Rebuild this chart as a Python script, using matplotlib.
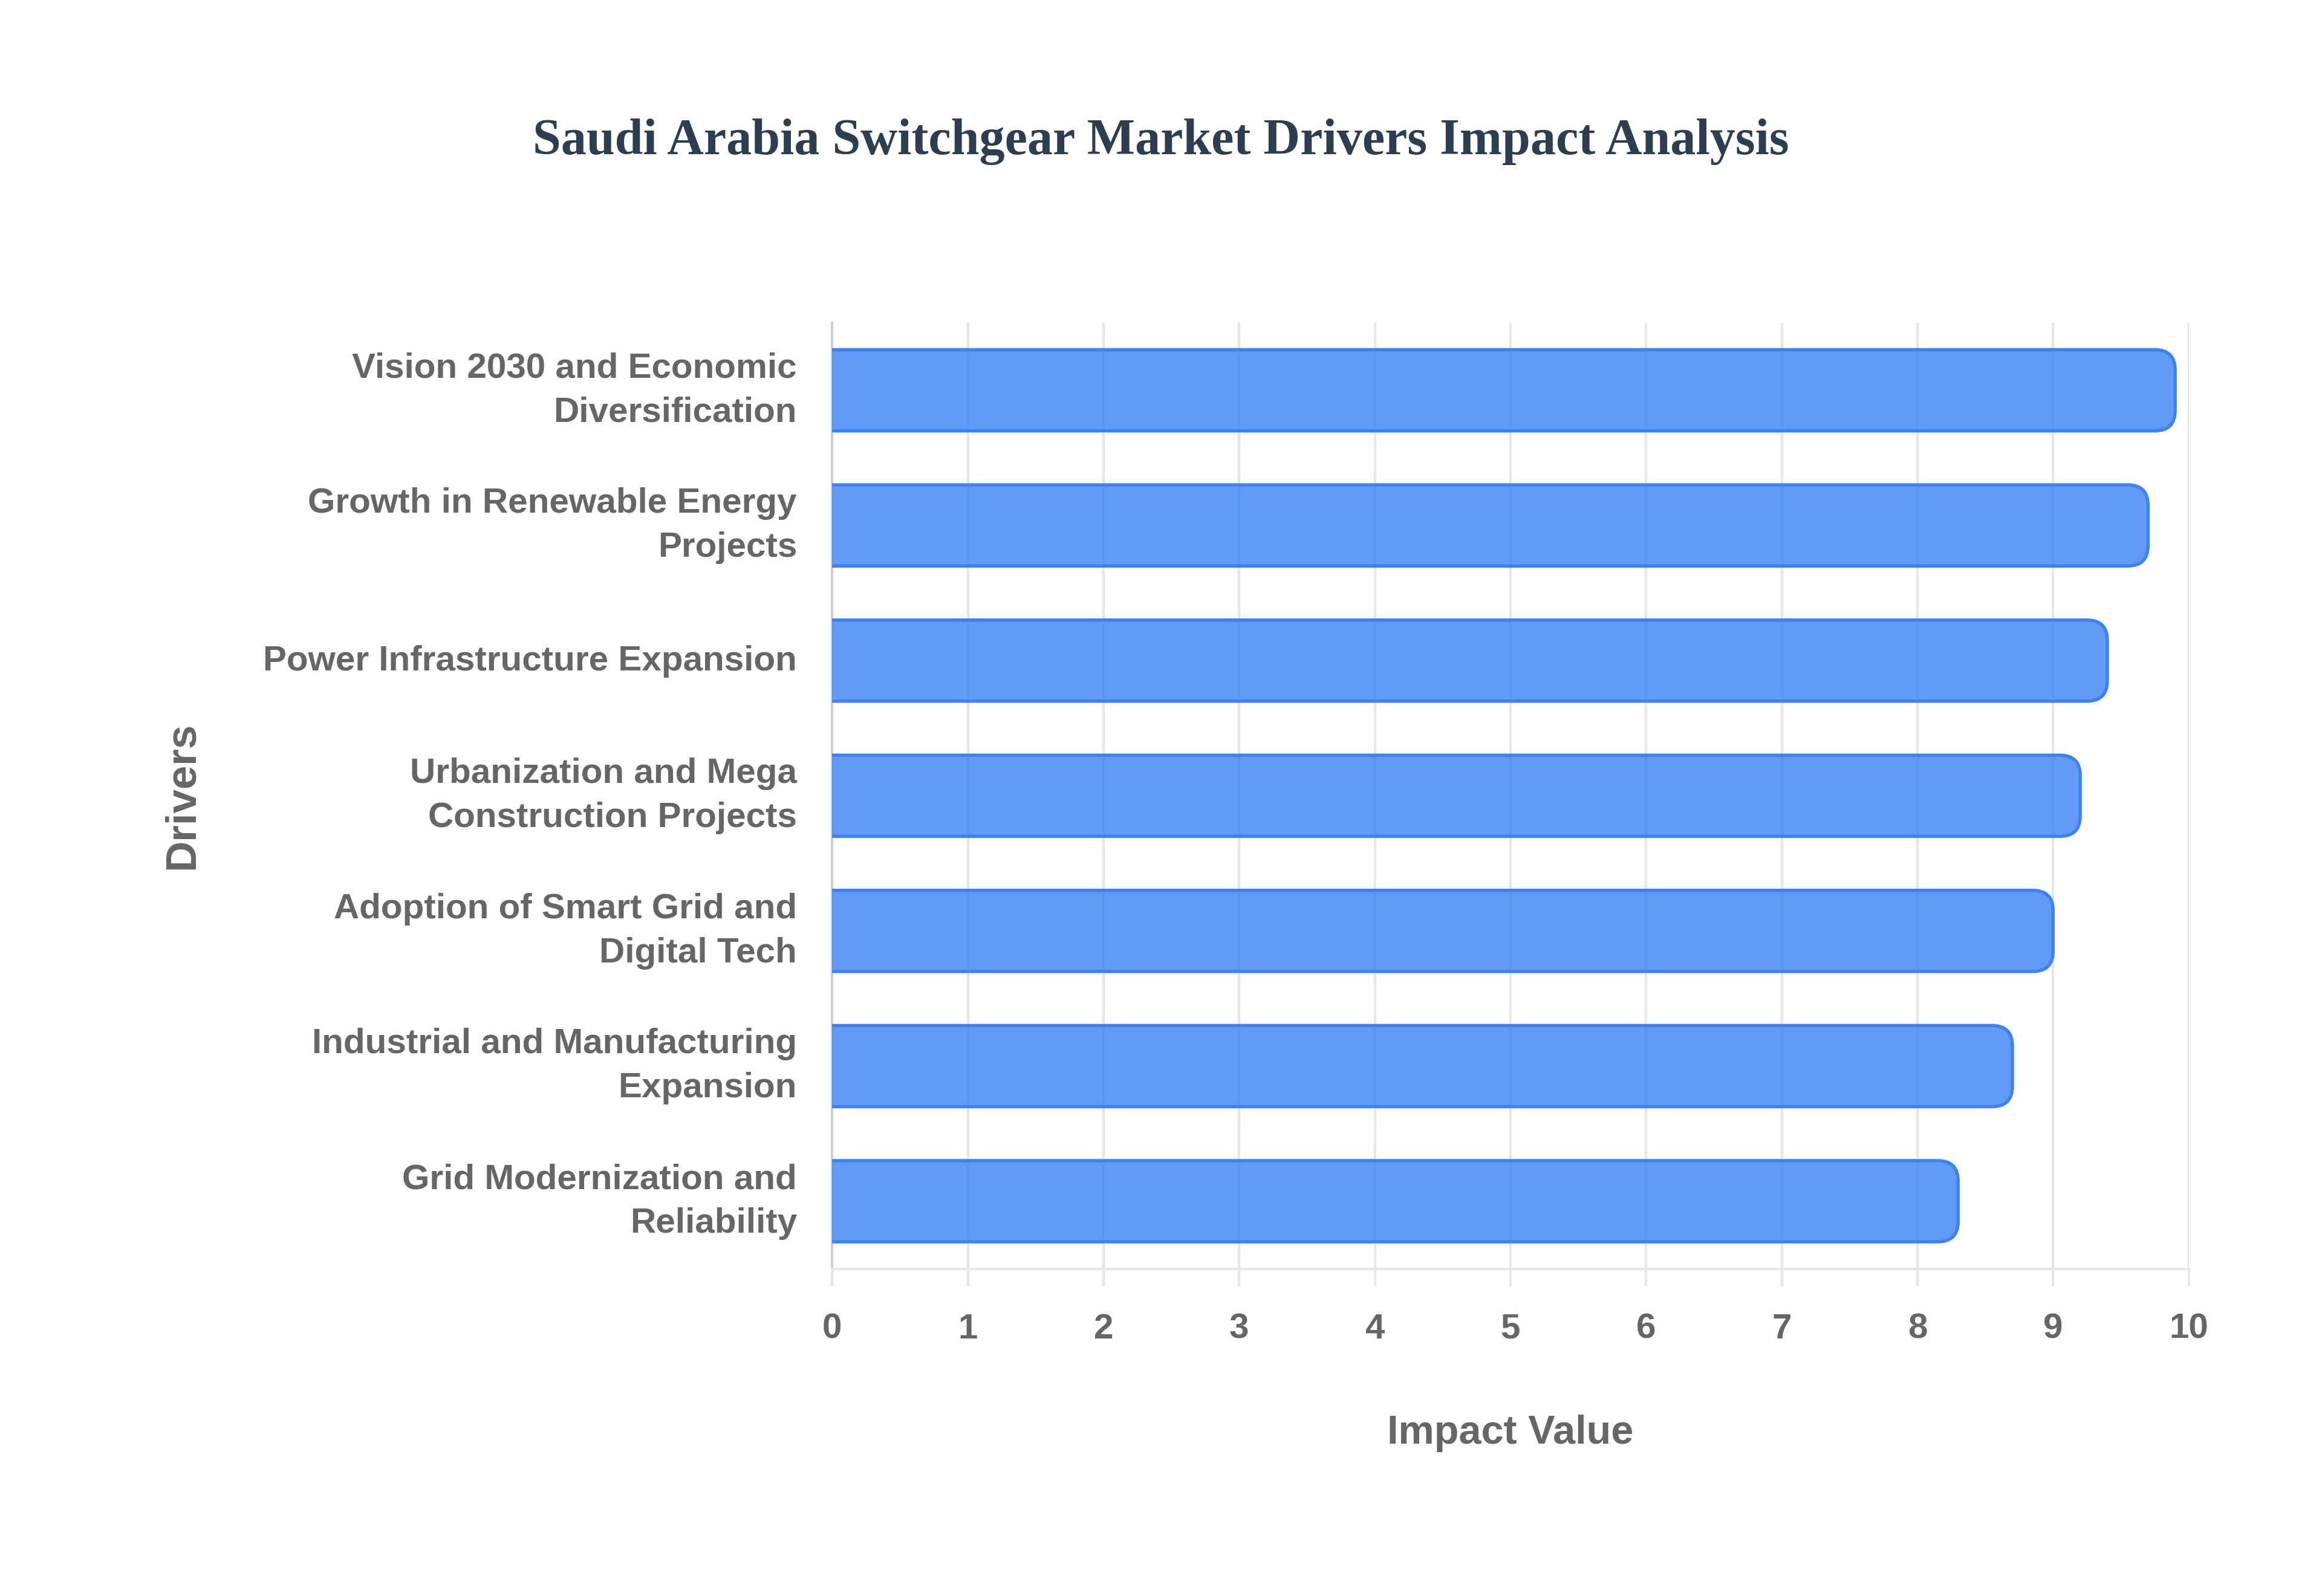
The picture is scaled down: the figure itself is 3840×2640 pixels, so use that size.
import matplotlib
matplotlib.use("Agg")
import matplotlib.pyplot as plt
from matplotlib.patches import FancyBboxPatch
from matplotlib import font_manager
from matplotlib.transforms import ScaledTranslation

drivers = [
    "Vision 2030 and Economic\nDiversification",
    "Growth in Renewable Energy\nProjects",
    "Power Infrastructure Expansion",
    "Urbanization and Mega\nConstruction Projects",
    "Adoption of Smart Grid and\nDigital Tech",
    "Industrial and Manufacturing\nExpansion",
    "Grid Modernization and\nReliability",
]
impact = [9.9, 9.7, 9.4, 9.2, 9.0, 8.7, 8.3]
x_ticks = [0, 1, 2, 3, 4, 5, 6, 7, 8, 9, 10]

names = {f.name for f in font_manager.fontManager.ttflist}
narrow = "Liberation Sans Narrow" if "Liberation Sans Narrow" in names else "Liberation Sans"

fig = plt.figure(figsize=(12.8, 8.8), dpi=300)
ax = fig.add_axes([0.3584, 0.205, 0.5842, 0.5928])

ypos = list(range(len(drivers)))
fill = (59/255, 130/255, 246/255, 0.8)
bars = ax.barh(ypos, impact, height=0.6, color=fill,
               edgecolor="#3B82F6", linewidth=1.2, zorder=3)
# replace with right-rounded bars (left corner clipped at axis)
for r in bars:
    x0, y0, w, h = r.get_x(), r.get_y(), r.get_width(), r.get_height()
    p = FancyBboxPatch((x0 - 0.3, y0), w + 0.3, h,
                       boxstyle="round,pad=0,rounding_size=0.15",
                       mutation_aspect=1.0,
                       facecolor=fill, edgecolor="#3B82F6",
                       linewidth=1.3, zorder=3, clip_on=True)
    ax.add_patch(p)
    r.set_visible(False)

ax.set_xlim(0, 10)
ax.set_ylim(len(drivers) - 0.5, -0.5)
ax.set_xticks(x_ticks)
ax.set_xticklabels([str(t) for t in x_ticks])
ax.set_yticks(ypos)

ax.grid(axis="x", color="#E6E6E6", linewidth=1.0, zorder=0)
ax.set_axisbelow(True)
for s in ["top", "right"]:
    ax.spines[s].set_visible(False)
ax.spines["left"].set_color("#D0D0D0")
ax.spines["left"].set_linewidth(1.0)
ax.spines["bottom"].set_color("#E6E6E6")
ax.spines["bottom"].set_linewidth(1.0)
ax.tick_params(axis="x", length=7, color="#E6E6E6", width=1.0, pad=10.5)
ax.tick_params(axis="y", length=0, pad=14)

ax.set_yticklabels(drivers, family=narrow, fontweight="bold", fontsize=14,
                   color="#666666", linespacing=1.45, ha="right", multialignment="right")
for lab in ax.get_yticklabels():
    dy = 0.05 if "\n" in lab.get_text() else 0.016
    lab.set_transform(lab.get_transform() + ScaledTranslation(0, dy, fig.dpi_scale_trans))
for lab in ax.get_xticklabels():
    lab.set_family("Liberation Sans")
    lab.set_fontweight("bold")
    lab.set_fontsize(14)
    lab.set_color("#666666")

ax.set_xlabel("Impact Value", family="Liberation Sans", fontweight="bold",
              fontsize=16, color="#666666", va="center")
ax.xaxis.set_label_coords(0.5, -0.1737)
ax.set_ylabel("Drivers", family="Liberation Sans", fontweight="bold",
              fontsize=17, color="#666666", va="center")
ax.yaxis.set_label_coords(-0.479, 0.5)

fig.text(0.5, 0.9110, "Saudi Arabia Switchgear Market Drivers Impact Analysis",
         family="Liberation Serif", fontweight="bold", fontsize=20.2,
         color="#2C3E50", ha="center", va="center")

fig.savefig("out.png", dpi=300, facecolor="white")
